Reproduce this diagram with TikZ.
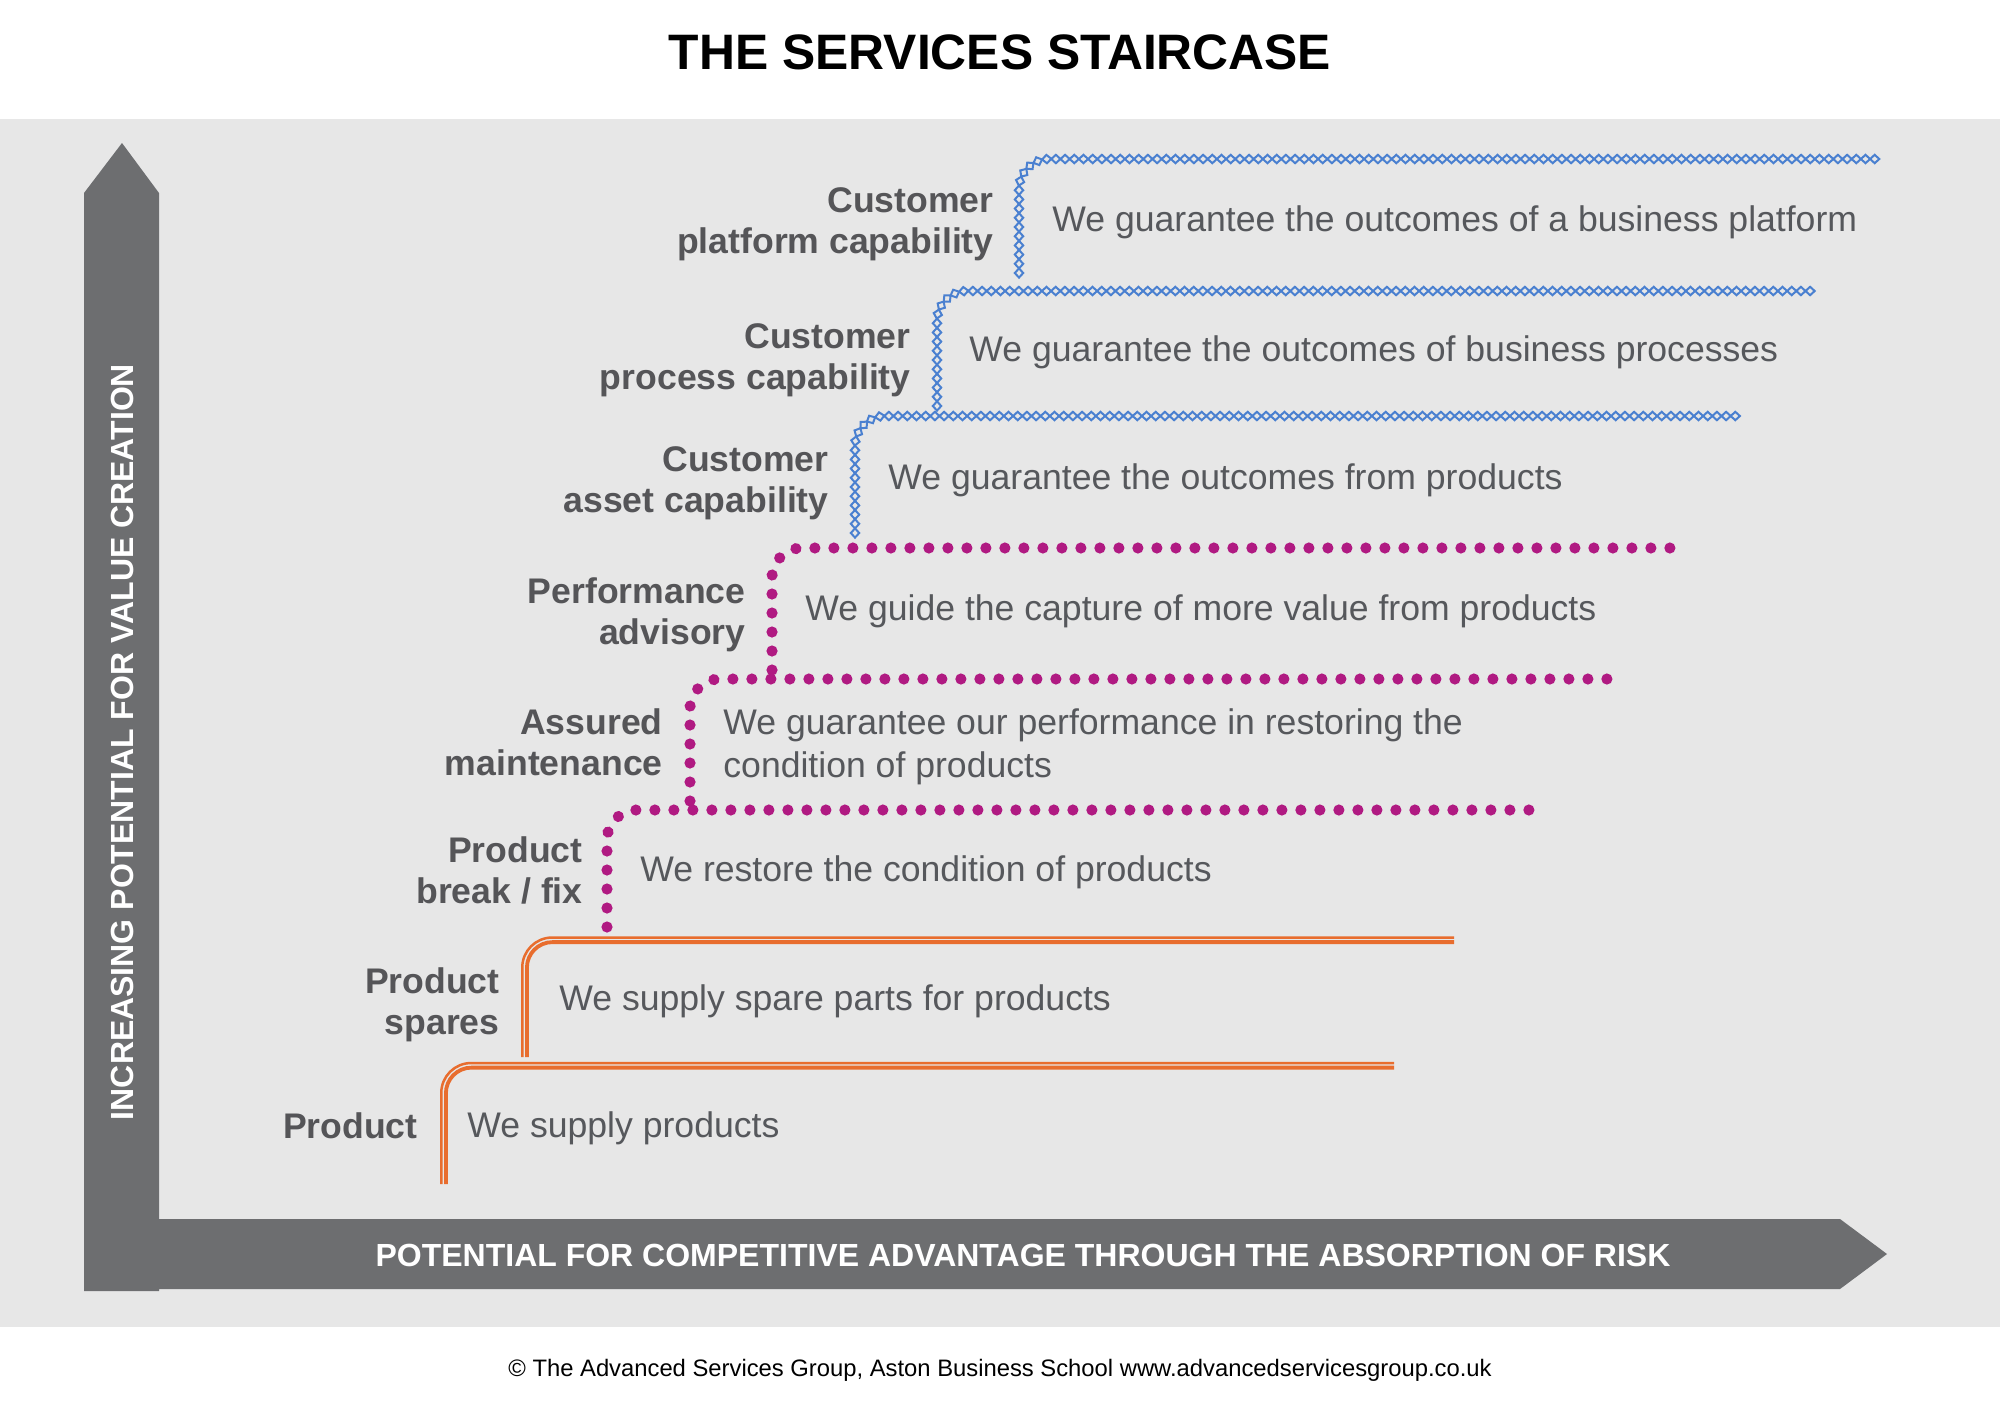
\documentclass[tikz,border=0pt]{standalone}
\usepackage{fontspec}
\setmainfont{Liberation Sans}
\usetikzlibrary{decorations.markings}
\definecolor{bgc}{HTML}{E7E7E7}
\definecolor{arrc}{HTML}{6D6E70}
\definecolor{orng}{HTML}{E86D2E}
\definecolor{mag}{HTML}{B01A82}
\definecolor{blu}{HTML}{4A80D0}
\definecolor{lblc}{HTML}{555558}
\definecolor{descc}{HTML}{56585C}
\tikzset{
  lbl/.style={font=\bfseries\fontsize{17.8}{20.5}\selectfont, text=lblc, anchor=east, align=right, inner sep=0pt},
  desc/.style={font=\fontsize{17.8}{21.5}\selectfont, text=descc, anchor=west, align=left, inner sep=0pt},
  orthin/.style={draw=orng, line width=1.25pt, rounded corners=15pt},
  orthick/.style={draw=orng, line width=1.9pt, rounded corners=12.8pt},
  dotline/.style={rounded corners=15pt, decoration={markings, mark=between positions 0 and 1 step 9.5pt with {\fill[mag] (0pt,0pt) circle (2.8pt);}}, decorate},
  diamline/.style={rounded corners=15pt, decoration={markings, mark=between positions 0 and 1 step 4.6pt with {\draw[sharp corners, blu, fill=bgc, line width=1pt] (-2.3pt,0pt) -- (0pt,2.1pt) -- (2.3pt,0pt) -- (0pt,-2.1pt) -- cycle;}}, decorate},
  axlbl/.style={font=\bfseries\fontsize{16}{19}\selectfont, text=white, inner sep=0pt},
}
\begin{document}
\begin{tikzpicture}[x=0.5pt,y=-0.5pt]
\useasboundingbox (0,0) rectangle (2000,1414);
\fill[white] (0,0) rectangle (2000,1414);
\fill[bgc] (0,119) rectangle (2000,1327);
% axes arrow shape
\fill[arrc] (84,193) -- (122,143) -- (159,193) -- (159,1219) -- (1840,1219) -- (1887,1254) -- (1840,1289) -- (159,1289) -- (159,1291) -- (84,1291) -- cycle;
\node[axlbl, rotate=90] (yax) at (122,742) {INCREASING POTENTIAL FOR VALUE CREATION};
\node[axlbl] (xax) at (1023,1255) {POTENTIAL FOR COMPETITIVE ADVANTAGE THROUGH THE ABSORPTION OF RISK};
% title and footer
\node[font=\bfseries\fontsize{24.9}{28}\selectfont, inner sep=0pt] (title) at (1000,52) {THE SERVICES STAIRCASE};
\node[font=\fontsize{11.9}{14}\selectfont, inner sep=0pt] (foot) at (1000,1370) {© The Advanced Services Group, Aston Business School www.advancedservicesgroup.co.uk};
% orange steps
\draw[orthin] (441.25,1184) -- (441.25,1063) -- (1394,1063);
\draw[orthick] (445.9,1184) -- (445.9,1067.6) -- (1394,1067.6);
\draw[orthin] (522.25,1057) -- (522.25,937.5) -- (1454,937.5);
\draw[orthick] (526.9,1057) -- (526.9,942.1) -- (1454,942.1);
% magenta steps
\path[dotline] (607,927) -- (607,810) -- (1540,810);
\path[dotline] (690,801) -- (690,679) -- (1610,679);
\path[dotline] (772,670) -- (772,548) -- (1679,548);
% blue steps
\path[diamline] (855,533) -- (855,416) -- (1744,416);
\path[diamline] (937,406) -- (937,291) -- (1814,291);
\path[diamline] (1019,273) -- (1019,159) -- (1883,159);
% labels
\node[lbl] (l1) at (418,1126) {Product};
\node[lbl] (l2) at (500,1005) {Product\\spares};
\node[lbl] (l3) at (583,870) {Product\\break / fix};
\node[lbl] (l4) at (663,742) {Assured\\maintenance};
\node[lbl] (l5) at (746,615) {Performance\\advisory};
\node[lbl] (l6) at (829,483) {Customer\\asset capability};
\node[lbl] (l7) at (911,360) {Customer\\process capability};
\node[lbl] (l8) at (994,224.5) {Customer\\platform capability};
% descriptions
\node[desc] (d1) at (467,1128) {We supply products};
\node[desc] (d2) at (559,1001) {We supply spare parts for products};
\node[desc] (d3) at (640,872.6) {We restore the condition of products};
\node[desc] (d4) at (723,746.5) {We guarantee our performance in restoring the\\condition of products};
\node[desc] (d5) at (805,611) {We guide the capture of more value from products};
\node[desc] (d6) at (888,480) {We guarantee the outcomes from products};
\node[desc] (d7) at (969,352) {We guarantee the outcomes of business processes};
\node[desc] (d8) at (1052,222) {We guarantee the outcomes of a business platform};
\end{tikzpicture}
\end{document}
